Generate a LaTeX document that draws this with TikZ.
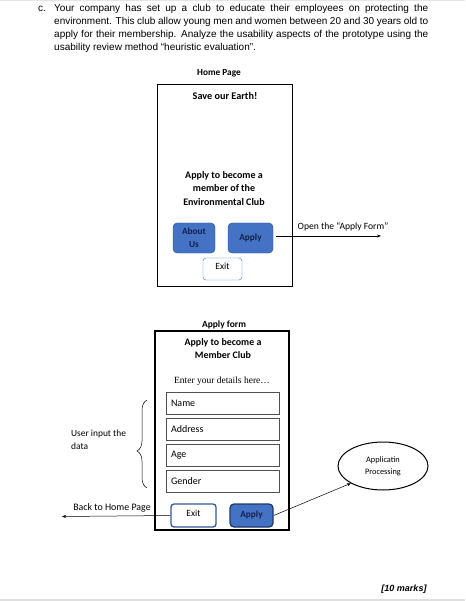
\documentclass[tikz,border=0pt]{standalone}
\usepackage{fontspec}
\setmainfont{Carlito}
\newfontfamily\arialf{Liberation Sans}
\newfontfamily\seriff{Liberation Serif}
\usetikzlibrary{shapes.geometric,arrows.meta,decorations.pathreplacing}
\definecolor{btnblue}{HTML}{4472C4}
\definecolor{btndark}{HTML}{2F528F}
\definecolor{navy}{HTML}{14204A}
\definecolor{fieldgray}{HTML}{505050}
\tikzset{
  lbl/.style={inner sep=0pt, font=\fontsize{9.8}{11}\selectfont},
  blbl/.style={inner sep=0pt, font=\fontsize{10}{13.5}\selectfont\bfseries, align=center},
  bluebtn/.style={draw=btndark, fill=btnblue, rounded corners=4pt, inner sep=0pt,
    font=\fontsize{9.3}{13}\selectfont\bfseries, text=navy, align=center},
  whitebtn/.style={draw=btnblue, fill=white, rounded corners=3pt, inner sep=0pt,
    text depth=5pt, font=\fontsize{9.5}{10}\selectfont},
  field/.style={draw=fieldgray, line width=0.8pt, minimum height=22pt, text width=103pt,
    inner xsep=5pt, inner ysep=0pt, align=left, font=\fontsize{10}{11}\selectfont},
  qline/.style={inner sep=0pt, anchor=base west, font=\arialf\fontsize{10}{12}\selectfont},
  conn/.style={-{Stealth[length=4pt,width=3pt]}, line width=0.5pt},
}
\begin{document}
\begin{tikzpicture}[x=1pt,y=-1pt]
\path[use as bounding box, fill=white] (0,0) rectangle (465,601);
\fill[gray!20] (0,0) rectangle (465,1.5);
\fill[gray!25] (0,598.5) rectangle (465,601);

% question text
\node[qline] (qc) at (38,11.5) {c.};
\node[qline] (q1) at (54,11.5) {\makebox[374pt][s]{Your company has set up a club to educate their employees on protecting the}};
\node[qline] (q2) at (54,24.5) {\makebox[374pt][s]{environment. This club allow young men and women between 20 and 30 years old to}};
\node[qline] (q3) at (54,37.5) {\makebox[374pt][s]{apply for their membership. Analyze the usability aspects of the prototype using the}};
\node[qline] (q4) at (54,50.5) {usability review method “heuristic evaluation”.};

% home page
\node[blbl, font=\fontsize{9.3}{11}\selectfont\bfseries] (hometitle) at (219,73) {Home Page};
\node[draw, line width=0.8pt, inner sep=0pt, minimum width=135pt, minimum height=202pt] (home) at (224.5,185) {};
\node[blbl, font=\fontsize{10.2}{12}\selectfont\bfseries] (save) at (225,96) {Save our Earth!};
\node[blbl] (applytext) at (224,188.5) {Apply to become a\\member of the\\Environmental Club};
\node[bluebtn, minimum width=42pt, minimum height=30pt] (about) at (194,238) {About\\Us};
\node[bluebtn, minimum width=45pt, minimum height=30pt] (apply1) at (250.5,238) {Apply};
\node[whitebtn, minimum width=39pt, minimum height=22pt] (exit1) at (222.5,269) {Exit};

\coordinate (openend) at (381,236);
\draw[conn] ([xshift=3pt]apply1.east |- openend) -- (openend);
\node[lbl, font=\fontsize{9.6}{11}\selectfont] (openlbl) at (343,227) {Open the “Apply Form”};

% apply form
\node[lbl, font=\fontsize{9.5}{11}\selectfont\bfseries] (formtitle) at (224,324.5) {Apply form};
\node[draw, line width=1.6pt, inner sep=0pt, minimum width=134pt, minimum height=199pt] (form) at (222,430.5) {};
\node[blbl, font=\fontsize{9.9}{13}\selectfont\bfseries] (formhead) at (223,348.5) {Apply to become a\\Member Club};
\node[lbl, font=\seriff\fontsize{9.5}{11}\selectfont] (enter) at (222,381) {Enter your details here…};
\node[field] (name) at (222.5,403) {Name};
\node[field] (address) at (222.5,429) {Address};
\node[field] (age) at (222.5,455) {Age};
\node[field] (gender) at (222.5,481) {Gender};
\node[whitebtn, draw=btndark!80!btnblue, line width=1.3pt, minimum width=45pt, minimum height=23pt] (exit2) at (193.5,515.5) {Exit};
\node[bluebtn, line width=1.3pt, draw=btndark!70!black, minimum width=43pt, minimum height=23pt, text depth=3pt] (apply2) at (251.5,515.5) {Apply};

% user input brace
\draw[decorate, decoration={brace, amplitude=10pt, aspect=0.42}, line width=0.5pt] (147,488) -- (147,400);
\node[lbl, align=left, anchor=west, font=\fontsize{9.4}{13}\selectfont] (userin) at (71,439.5) {User input the\\data};

% back arrow
\coordinate (backend) at (62,516.5);
\draw[conn] (exit2.west) -- (backend);
\node[lbl, font=\fontsize{9.9}{11}\selectfont] (backlbl) at (112,508) {Back to Home Page};

% processing
\node[ellipse, draw, line width=1pt, minimum width=90pt, minimum height=48pt, align=center, inner sep=0pt,
  font=\fontsize{8.3}{12}\selectfont] (proc) at (383,466) {Applicatin\\Processing};
\draw[conn] (apply2.east) -- (proc.south west);

% marks
\node[inner sep=0pt, font=\arialf\fontsize{9}{11}\selectfont\bfseries\itshape] (marks) at (404,589) {[10 marks]};
\end{tikzpicture}
\end{document}
